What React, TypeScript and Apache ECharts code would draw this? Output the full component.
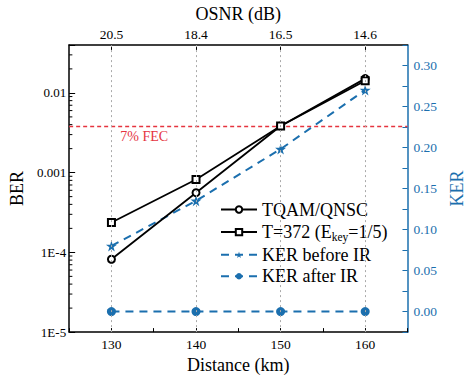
import React, { useEffect, useRef } from "react";
import * as echarts from "echarts";

// ---- data ----
const distances = [130, 140, 150, 160];
const osnrLabels = ["20.5", "18.4", "16.5", "14.6"];
const berTqam = [8.2e-5, 5.6e-4, 3.85e-3, 0.0151];
const berT372 = [2.37e-4, 8.2e-4, 3.85e-3, 0.0142];
const kerBefore = [0.08, 0.135, 0.198, 0.27];
const kerAfter = [0, 0, 0, 0];
const fecThreshold = 3.8e-3;
const berTickLabels: Record<string, string> = { "-5": "1E-5", "-4": "1E-4", "-3": "0.001", "-2": "0.01" };
const minorBerTicks = [
  2e-5, 3e-5, 4e-5, 5e-5, 6e-5, 7e-5, 8e-5, 9e-5,
  2e-4, 3e-4, 4e-4, 5e-4, 6e-4, 7e-4, 8e-4, 9e-4,
  2e-3, 3e-3, 4e-3, 5e-3, 6e-3, 7e-3, 8e-3, 9e-3,
  2e-2, 3e-2,
];
const berMin = 1e-5;
const berMax = 0.04;
const xMin = 125;
const xMax = 165;
const minorTickLen = 0.38; // in km (x-axis units)

const FONT = "Liberation Serif";
const BLUE = "#1b6fae";
const RED = "#e5343f";
const STAR = "path://M50,0 L61,35 L98,35 L68,57 L79,91 L50,70 L21,91 L32,57 L2,35 L39,35 Z";

export default function App() {
  const ref = useRef<HTMLDivElement>(null);
  useEffect(() => {
    const chart = echarts.init(ref.current!, null, { renderer: "svg" });
    const pair = (ys: number[]) => distances.map((d, i) => [d, ys[i]]);
    const lbl = (color: string, size = 13.5) => ({ fontFamily: FONT, fontSize: size, color });
    const minorTickData: any[] = [];
    minorBerTicks.forEach((v) => {
      minorTickData.push([xMin, v], [xMin + minorTickLen, v], "-");
    });
    chart.setOption({
      animation: false,
      backgroundColor: "#fff",
      textStyle: { fontFamily: FONT, fontSize: 14 },
      grid: { left: 44, right: 55, top: 32, bottom: 36 },
      legend: {
        left: 215,
        top: 195,
        orient: "vertical",
        itemWidth: 36,
        itemHeight: 8,
        itemGap: 2.6,
        data: ["TQAM/QNSC", "T=372", "KER before IR", "KER after IR"],
        formatter: (n: string) => (n === "T=372" ? "T=372 (E{sub|key}=1/5)" : n),
        textStyle: {
          fontFamily: FONT,
          fontSize: 18,
          color: "#000",
          lineHeight: 19,
          rich: { sub: { fontFamily: FONT, fontSize: 11.5, lineHeight: 19, padding: [9, 0, 0, 0] } },
        },
      },
      xAxis: [
        {
          type: "value",
          position: "bottom",
          min: xMin,
          max: xMax,
          interval: 5,
          name: "Distance (km)",
          nameLocation: "middle",
          nameGap: 18,
          nameTextStyle: { fontFamily: FONT, fontSize: 18, color: "#000" },
          axisLine: { onZero: false, lineStyle: { color: "#000", width: 1.5 } },
          axisTick: { inside: true, length: 4, lineStyle: { color: "#000" } },
          axisLabel: {
            ...lbl("#000"),
            margin: 5,
            formatter: (v: number) => (distances.includes(v) ? String(v) : ""),
          },
          splitLine: { show: false },
        },
        {
          type: "value",
          position: "top",
          min: xMin,
          max: xMax,
          interval: 5,
          name: "OSNR (dB)",
          nameLocation: "middle",
          nameGap: 15,
          nameTextStyle: { fontFamily: FONT, fontSize: 18, color: "#000" },
          axisLine: { onZero: false, lineStyle: { color: "#000", width: 1.5 } },
          axisTick: { inside: true, length: 5, customValues: distances, lineStyle: { color: "#000" } },
          axisLabel: {
            ...lbl("#000"),
            margin: 3,
            customValues: distances,
            formatter: (v: number) => {
              const i = distances.indexOf(v);
              return i >= 0 ? osnrLabels[i] : "";
            },
          },
          splitLine: { show: false },
        },
      ],
      yAxis: [
        {
          type: "log",
          min: berMin,
          max: berMax,
          name: "BER",
          nameLocation: "middle",
          nameGap: 32,
          nameTextStyle: { fontFamily: FONT, fontSize: 18, color: "#000" },
          axisLine: { show: true, onZero: false, lineStyle: { color: "#000", width: 1.5 } },
          axisTick: { inside: true, length: 6, lineStyle: { color: "#000" } },
          axisLabel: {
            ...lbl("#000", 13),
            margin: 3,
            formatter: (v: number) => {
              const e = Math.round(Math.log10(v));
              if (Math.abs(Math.log10(v) - e) > 1e-6) return "";
              return berTickLabels[String(e)] ?? "";
            },
          },
          splitLine: { show: false },
        },
        {
          type: "value",
          position: "right",
          min: -0.025,
          max: 0.325,
          interval: 0.025,
          name: "KER",
          nameLocation: "middle",
          nameGap: 31,
          nameTextStyle: { fontFamily: FONT, fontSize: 18, color: BLUE },
          axisLine: { show: true, onZero: false, lineStyle: { color: BLUE, width: 1.5 } },
          axisTick: { inside: true, length: 5, lineStyle: { color: BLUE } },
          axisLabel: {
            ...lbl(BLUE),
            margin: 6,
            formatter: (v: number) => {
              const k = Math.round(v / 0.025);
              if (k % 2 !== 0 || k < 0 || k > 12) return "";
              return v.toFixed(2);
            },
          },
          splitLine: { show: false },
        },
      ],
      series: [
        {
          name: "minorTicks",
          type: "line",
          xAxisIndex: 0,
          yAxisIndex: 0,
          silent: true,
          symbol: "none",
          connectNulls: false,
          lineStyle: { color: "#000", width: 1 },
          data: minorTickData,
          z: 5,
        },
        {
          name: "FEC",
          type: "line",
          xAxisIndex: 0,
          yAxisIndex: 0,
          silent: true,
          symbol: "circle",
          symbolSize: 1,
          showSymbol: true,
          itemStyle: { color: "rgba(0,0,0,0)" },
          lineStyle: { color: RED, type: [4, 3], width: 1.5 },
          data: [
            {
              value: [xMin, fecThreshold],
              label: {
                show: true,
                formatter: "7% FEC",
                position: "bottom",
                offset: [75, -2],
                color: RED,
                fontFamily: FONT,
                fontSize: 14,
              },
            },
            [xMax, fecThreshold],
          ],
          z: 2,
        },
        {
          name: "TQAM/QNSC",
          type: "line",
          xAxisIndex: 0,
          yAxisIndex: 0,
          data: pair(berTqam),
          symbol: "emptyCircle",
          symbolSize: 7,
          itemStyle: { color: "#000", borderWidth: 1.2 },
          lineStyle: { color: "#000", width: 1.8 },
          z: 4,
          markLine: {
            silent: true,
            symbol: "none",
            animation: false,
            data: distances.map((d) => ({
              xAxis: d,
              lineStyle: { color: "#aaa", type: [2, 3], width: 1 },
              label: { show: false },
            })),
          },
        },
        {
          name: "T=372",
          type: "line",
          xAxisIndex: 0,
          yAxisIndex: 0,
          data: pair(berT372),
          symbol: "emptyRect",
          symbolSize: 7,
          itemStyle: { color: "#000", borderWidth: 1.2 },
          lineStyle: { color: "#000", width: 1.8 },
          z: 4,
        },
        {
          name: "KER before IR",
          type: "line",
          xAxisIndex: 0,
          yAxisIndex: 1,
          data: pair(kerBefore),
          symbol: STAR,
          symbolSize: 11,
          itemStyle: { color: BLUE },
          lineStyle: { color: BLUE, width: 2, type: [8, 6] },
          z: 3,
        },
        {
          name: "KER after IR",
          type: "line",
          xAxisIndex: 0,
          yAxisIndex: 1,
          data: pair(kerAfter),
          symbol: "circle",
          symbolSize: 9,
          itemStyle: { color: BLUE },
          lineStyle: { color: BLUE, width: 2, type: [8, 6] },
          z: 3,
        },
      ],
    });
    return () => chart.dispose();
  }, []);
  return (
    <div
      ref={ref}
      style={{ position: "fixed", left: 0, top: 0, width: 474, height: 379, background: "#fff" }}
    />
  );
}
